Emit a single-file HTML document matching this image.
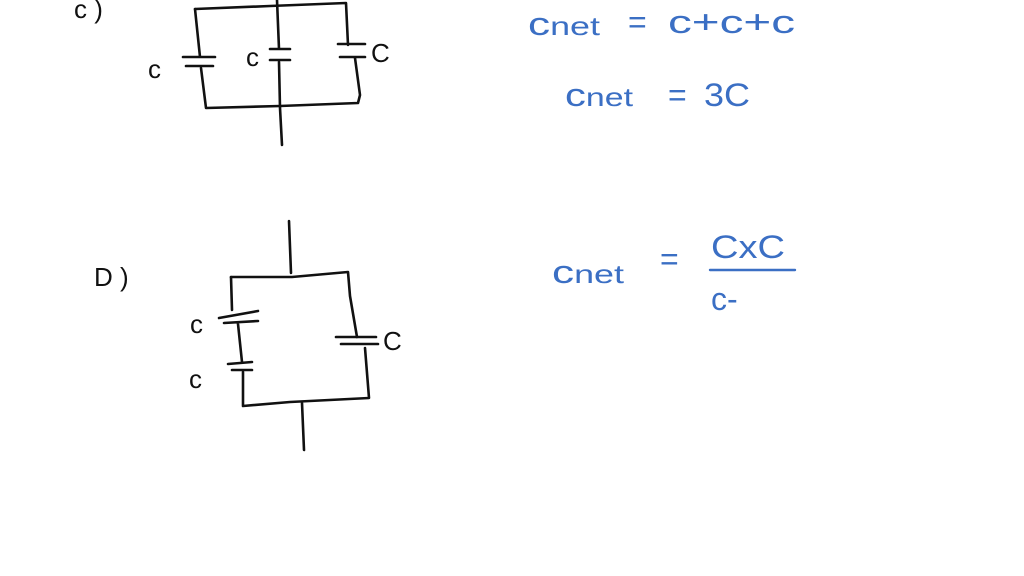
<!DOCTYPE html>
<html><head><style>
html,body{margin:0;padding:0;background:#fff;width:1024px;height:576px;overflow:hidden}
svg{display:block}
.k{fill:none;stroke:#111;stroke-width:2.6;stroke-linecap:round;stroke-linejoin:round}
.b{fill:none;stroke:#3b6fc4;stroke-width:2.4;stroke-linecap:round}
text{font-family:"Liberation Sans",sans-serif}
.t{fill:#111;font-size:26px}
.bl{fill:#3b6fc4;font-size:32px}
</style></head><body>
<svg width="1024" height="576" viewBox="0 0 1024 576">
<path class="k" d="M195 9 L270 6 L346 3 L348 45"/>
<path class="k" d="M195 9 L200 57 M183 57 L215 57 M186 66 L213 66 M201 68 L206 108 L280 106 L358 103 L360 95 L355 58"/>
<path class="k" d="M338 44 L365 44 M340 57 L365 57"/>
<path class="k" d="M277 0 L279 49 M270 49 L290 49 M270 60 L290 60 M279 62 L280 108 L282 145"/>
<text class="t" x="148" y="78">c</text>
<text class="t" x="246" y="66">c</text>
<text class="t" x="371" y="62">C</text>
<text class="t" x="74" y="18">c )</text>
<path class="k" d="M289 221 L291 273 M231 277 L292 277 L348 272 L350 296 L357 337"/>
<path class="k" d="M231 277 L232 310 M219 318 L258 311 M224 323 L258 321 M238 324 L242 362 M228 364 L252 362 M232 370 L252 370 M243 372 L243 406 L290 402 L369 398 L365 348"/>
<path class="k" d="M336 337 L376 337 M341 344 L378 344"/>
<path class="k" d="M302 403 L304 450"/>
<text class="t" x="190" y="333">c</text>
<text class="t" x="189" y="388">c</text>
<text class="t" x="383" y="350">C</text>
<text class="t" x="94" y="286">D )</text>
<text class="bl" x="528" y="35" textLength="72" lengthAdjust="spacingAndGlyphs">c<tspan font-size="26">net</tspan></text>
<text class="bl" x="628" y="33">=</text>
<text class="bl" x="668" y="33" textLength="127" lengthAdjust="spacingAndGlyphs">c+c+c</text>
<text class="bl" x="565" y="106" textLength="68" lengthAdjust="spacingAndGlyphs">c<tspan font-size="26">net</tspan></text>
<text class="bl" x="668" y="106">=</text>
<text class="bl" x="704" y="106" textLength="46" lengthAdjust="spacingAndGlyphs">3C</text>
<text class="bl" x="552" y="283" textLength="72" lengthAdjust="spacingAndGlyphs">c<tspan font-size="26">net</tspan></text>
<text class="bl" x="660" y="270">=</text>
<text class="bl" x="711" y="258" textLength="74" lengthAdjust="spacingAndGlyphs">CxC</text>
<path class="b" d="M710 270 L795 270"/>
<text class="bl" x="711" y="310">c-</text>
</svg>
</body></html>
